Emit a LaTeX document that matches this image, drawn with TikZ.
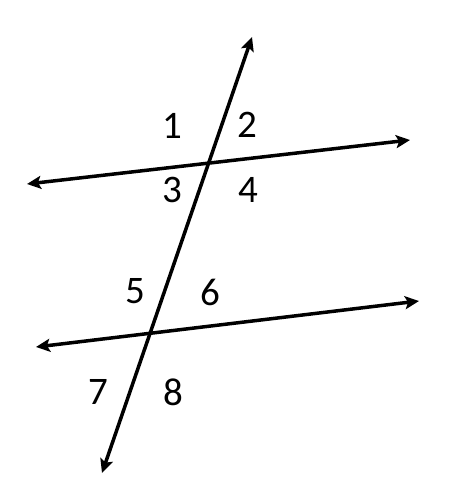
\documentclass[tikz,border=0pt]{standalone}
\usepackage{fontspec}
\setmainfont{Carlito}
\usetikzlibrary{arrows.meta}
\tikzset{
	line/.style = {line width = 3.5pt, {Stealth[length=14pt, width=13pt, inset=3pt]}-{Stealth[length=14pt, width=13pt, inset=3pt]}},
	angle/.style = {inner sep = 0pt, font = \fontsize{39}{42}\selectfont}
}
\begin{document}
\begin{tikzpicture}[x = 1pt, y = -1pt]
		\useasboundingbox (0, 0) rectangle (474, 489);
		% line ends
			\coordinate (tbot) at (102, 473);
			\coordinate (ttop) at (252, 37);
			\coordinate (uleft) at (27, 184);
			\coordinate (uright) at (410, 140);
			\coordinate (lleft) at (36, 347);
			\coordinate (lright) at (419, 301);
		% the lines
		\draw[line] (tbot) -- (ttop);
		\draw[line] (uleft) -- (uright);
		\draw[line] (lleft) -- (lright);
		% the angles
		\node[angle] (a1) at (172, 126) {1};
		\node[angle] (a2) at (247, 125) {2};
		\node[angle] (a3) at (172, 190) {3};
		\node[angle] (a4) at (248, 190) {4};
		\node[angle] (a5) at (135, 291) {5};
		\node[angle] (a6) at (210, 292) {6};
		\node[angle] (a7) at (98, 392) {7};
		\node[angle] (a8) at (173, 392) {8};
	\end{tikzpicture}
\end{document}
